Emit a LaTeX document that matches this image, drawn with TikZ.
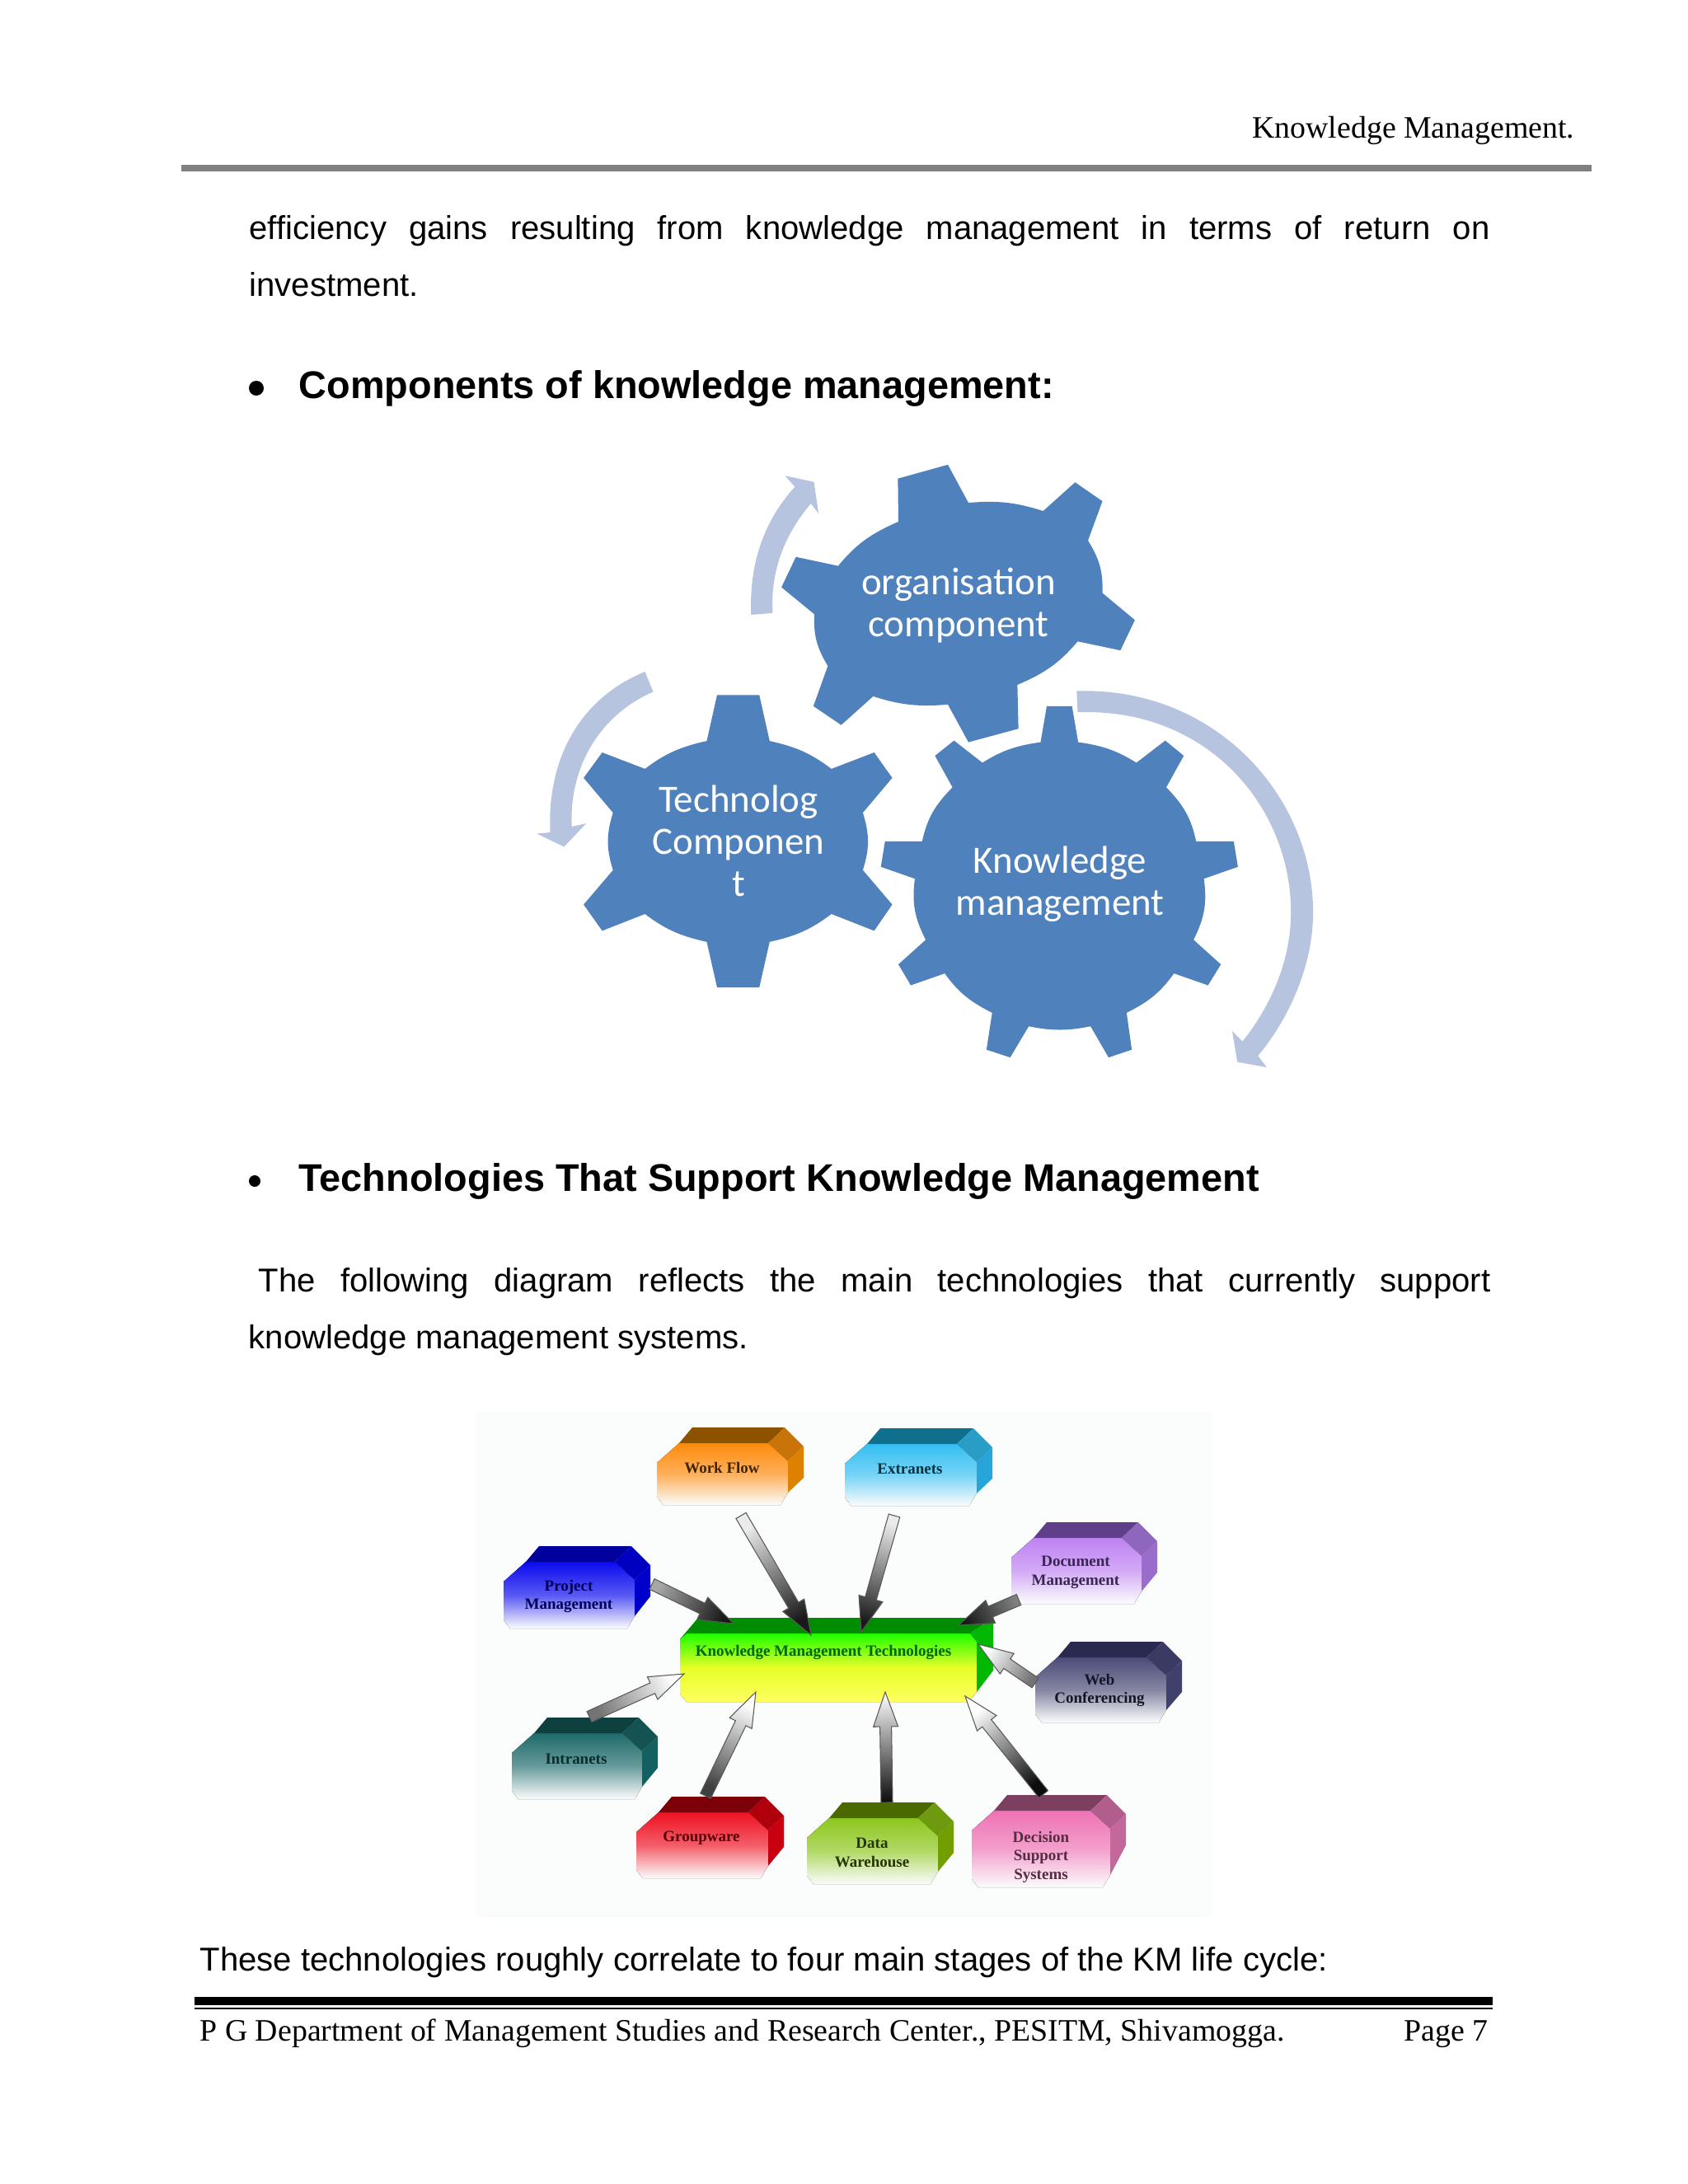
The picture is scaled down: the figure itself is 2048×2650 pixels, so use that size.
\documentclass[tikz,border=0pt]{standalone}
\usepackage{fontspec}
\setmainfont{Liberation Sans}
\newfontfamily\gearfont{Carlito}
\newfontfamily\serfont{Liberation Serif}
\usetikzlibrary{calc}

\definecolor{gearblue}{HTML}{4F81BD}
\definecolor{arcblue}{HTML}{B7C4DF}
\definecolor{rulegray}{HTML}{808080}
\definecolor{photobg}{HTML}{FBFCFC}
\definecolor{wffront}{HTML}{FF8A0C}\definecolor{wftop}{HTML}{8C5200}\definecolor{wfside}{HTML}{C87408}\definecolor{wfedge}{HTML}{DE8000}
\definecolor{exfront}{HTML}{35BFF2}\definecolor{extop}{HTML}{0F6F8C}\definecolor{exside}{HTML}{2A9DC6}\definecolor{exedge}{HTML}{27A5D8}
\definecolor{pjfront}{HTML}{0A0AEE}\definecolor{pjtop}{HTML}{00009C}\definecolor{pjside}{HTML}{0000C0}\definecolor{pjedge}{HTML}{0000CC}
\definecolor{dcfront}{HTML}{BE82F2}\definecolor{dctop}{HTML}{5F3F8A}\definecolor{dcside}{HTML}{8E66BE}\definecolor{dcedge}{HTML}{9A6CCC}
\definecolor{wbfront}{HTML}{4C4C78}\definecolor{wbtop}{HTML}{2A2A50}\definecolor{wbside}{HTML}{3A3A64}\definecolor{wbedge}{HTML}{40406C}
\definecolor{infront}{HTML}{1F6B6B}\definecolor{intop}{HTML}{0F4040}\definecolor{inside}{HTML}{155252}\definecolor{inedge}{HTML}{126060}
\definecolor{gwfront}{HTML}{EE1122}\definecolor{gwtop}{HTML}{7C0008}\definecolor{gwside}{HTML}{B0000C}\definecolor{gwedge}{HTML}{C80010}
\definecolor{dwfront}{HTML}{8DC71E}\definecolor{dwtop}{HTML}{4A6A00}\definecolor{dwside}{HTML}{6E9A10}\definecolor{dwedge}{HTML}{739E00}
\definecolor{dsfront}{HTML}{EE72B4}\definecolor{dstop}{HTML}{7C3F60}\definecolor{dsside}{HTML}{B25E8C}\definecolor{dsedge}{HTML}{C4689C}

\tikzset{
    bodytext/.style={anchor=base west, inner sep=0pt, font=\fontsize{11.4}{13}\selectfont},
    headtext/.style={anchor=base west, inner sep=0pt, font=\fontsize{13.32}{16}\selectfont\bfseries},
    pagetext/.style={anchor=base west, inner sep=0pt, font=\fontsize{10.76}{12}\selectfont\serfont},
    geartext/.style={align=center, inner sep=0pt, text=white, font=\fontsize{13.35}{14.5}\selectfont\gearfont},
    kmtext/.style={align=center, inner sep=0pt, font=\fontsize{5.4}{6.4}\selectfont\serfont\bfseries},
    gearzone/.style={shift={(620,530)}, xscale=0.625, yscale=0.4974},
    gearbend/.style={bend left=14},
    arrowline/.style={draw=black!65, line width=0.3pt}
}

\newcommand{\kmbox}[5]{%
    \pgfmathsetmacro\bw{#4}
    \pgfmathsetmacro\bh{#5}
    \begin{scope}[shift={(#2,#3)}]
        \fill[top color=#1front, bottom color=photobg, middle color=#1front!68!white] (0,43) -- (27,19) -- (\bw-43,19) -- (\bw-19,41) -- (\bw-19,\bh-15) -- (\bw-28,\bh) -- (8,\bh) -- (0,\bh-10) -- cycle;
        \fill[#1top] (43,0) -- (\bw-23,0) -- (\bw-43,19) -- (27,19) -- cycle;
        \fill[#1side] (\bw-23,0) -- (\bw,23) -- (\bw-19,41) -- (\bw-43,19) -- cycle;
        \fill[#1edge] (\bw,23) -- (\bw,61) -- (\bw-19,\bh-15) -- (\bw-19,41) -- cycle;
    \end{scope}
}

\newcommand{\blockarrow}[4]{%
    \pgfmathanglebetweenpoints{\pgfpointanchor{#1}{center}}{\pgfpointanchor{#2}{center}}
    \pgfmathsetmacro\shadeang{\pgfmathresult-90}
    \coordinate (hb) at ($(#2)!0.42cm!(#1)$);
    \draw[arrowline, bottom color=#3, top color=#4, shading angle=\shadeang]
        ($(#1)!0.07cm!90:(#2)$) -- ($(hb)!0.07cm!90:(#2)$) -- ($(hb)!0.15cm!90:(#2)$) -- (#2)
        -- ($(hb)!0.15cm!-90:(#2)$) -- ($(hb)!0.07cm!-90:(#2)$) -- ($(#1)!0.07cm!-90:(#2)$) -- cycle;
}

\begin{document}
\begin{tikzpicture}[x=0.01cm, y=-0.01cm]
    \useasboundingbox (0,0) rectangle (2048,2650);
    \fill[white] (0,0) rectangle (2048,2650);

    \node[pagetext, anchor=base east] (header) at (1911,167) {Knowledge Management.};
    \fill[rulegray] (220,200) rectangle (1931,208);

    \node[bodytext] (line1) at (302,290) {\makebox[15.04cm][s]{efficiency gains resulting from knowledge management in terms of return on}};
    \node[bodytext] (line2) at (302,359) {investment.};

    \fill (311,471) circle (9);
    \node[headtext] (head1) at (362,483) {Components of knowledge management:};

    \begin{scope}[gearzone]
        \fill[arcblue] (466,434) .. controls (462,300) and (495,200) .. (551,122) -- (532,95) -- (588,110) -- (597,187) -- (582,163) .. controls (530,240) and (503,330) .. (508,430) -- cycle;
        \fill[arcblue] (260,573) .. controls (130,640) and (70,790) .. (76,965) -- (50,968) -- (103,1000) -- (146,943) -- (118,951) .. controls (112,810) and (170,680) .. (276,622) -- cycle;
        \fill[arcblue] (1098,620) .. controls (1370,610) and (1557,880) .. (1557,1160) .. controls (1557,1290) and (1510,1420) .. (1450,1510) -- (1467,1538) -- (1410,1525) -- (1400,1450) -- (1420,1475) .. controls (1480,1380) and (1514,1270) .. (1514,1160) .. controls (1514,900) and (1350,660) .. (1100,672) -- cycle;

        \fill[gearblue] (752,207) -- (751,102) -- (848,68) -- (888,161) to[gearbend] (1033,181) -- (1095,111) -- (1148,157) -- (1120,253) to[gearbend] (1148,381) -- (1211,447) -- (1183,521) -- (1100,499) to[gearbend] (983,605) -- (985,712) -- (888,745) -- (848,653) to[gearbend] (703,633) -- (641,703) -- (587,657) -- (615,559) to[gearbend] (589,433) -- (525,367) -- (553,293) -- (635,315) to[gearbend] cycle;
        \fill[gearblue] (380,742) -- (400,630) -- (482,630) -- (502,742) to[gearbend] (622,810) -- (705,770) -- (740,832) -- (683,917) to[gearbend] (683,1057) -- (740,1141) -- (705,1205) -- (622,1164) to[gearbend] (502,1232) -- (482,1343) -- (400,1343) -- (380,1232) to[gearbend] (260,1164) -- (177,1205) -- (141,1141) -- (198,1057) to[gearbend] (198,917) -- (141,832) -- (177,770) -- (260,810) to[gearbend] cycle;
        \fill[gearblue] (1028,745) -- (1040,657) -- (1089,657) -- (1101,745) to[gearbend] (1214,795) -- (1270,741) -- (1306,778) -- (1272,855) to[gearbend] (1330,987) -- (1403,987) -- (1411,1049) -- (1345,1078) to[gearbend] (1325,1227) -- (1378,1287) -- (1353,1338) -- (1287,1309) to[gearbend] (1195,1405) -- (1205,1495) -- (1160,1514) -- (1125,1438) to[gearbend] (1005,1438) -- (969,1514) -- (923,1495) -- (934,1405) to[gearbend] (842,1309) -- (776,1338) -- (752,1287) -- (805,1227) to[gearbend] (784,1078) -- (718,1049) -- (726,987) -- (798,987) to[gearbend] (857,855) -- (823,778) -- (860,741) -- (915,795) to[gearbend] cycle;
    \end{scope}
    \node[geartext] (orggear) at (1163,735) {organisation\\component};
    \node[geartext] (techgear) at (896,1020) {Technolog\\Componen\\t};
    \node[geartext] (kmgear) at (1286,1073) {Knowledge\\management};

    \fill (309,1433) circle (7);
    \node[headtext] (head2) at (362,1445) {Technologies That Support Knowledge Management};

    \node[bodytext] (line3) at (313,1567) {\makebox[14.94cm][s]{The following diagram reflects the main technologies that currently support}};
    \node[bodytext] (line4) at (301,1636) {knowledge management systems.};

    \fill[photobg] (577,1713) rectangle (1471,2327);

    \kmbox{wf}{797}{1732}{178}{94}
    \kmbox{ex}{1025}{1733}{179}{94}
    \kmbox{pj}{611}{1876}{178}{100}
    \kmbox{dc}{1227}{1847}{177}{99}
    \kmbox{wb}{1256}{1992}{178}{98}
    \kmbox{in}{621}{2084}{177}{99}
    \kmbox{gw}{772}{2180}{179}{99}
    \kmbox{dw}{979}{2187}{178}{99}
    \kmbox{ds}{1179}{2178}{187}{112}

    \fill[top color=green!85!lime, bottom color=yellow!62!white, middle color=lime!45!yellow!85!white] (825,1989) -- (833,1982) -- (1177,1982) -- (1185,1992) -- (1185,2053) -- (1175,2065) -- (833,2065) -- (825,2055) -- cycle;
    \fill[green!55!black] (847,1963) -- (1205,1963) -- (1177,1982) -- (833,1982) -- (825,1989) -- cycle;
    \fill[green!72!black] (1205,1963) -- (1205,2027) -- (1185,2053) -- (1185,1992) -- (1177,1982) -- cycle;

    \node[kmtext, text=wftop!45!black] (workflow) at (876,1781) {Work Flow};
    \node[kmtext, text=extop!45!black] (extranets) at (1104,1782) {Extranets};
    \node[kmtext, text=pjtop!55!black] (project) at (690,1937) {Project\\Management};
    \node[kmtext, text=dctop!60!black] (document) at (1305,1908) {Document\\Management};
    \node[kmtext, text=wbtop!50!black] (webconf) at (1334,2051) {Web\\Conferencing};
    \node[kmtext, text=intop!70!black] (intranets) at (699,2134) {Intranets};
    \node[kmtext, text=gwtop!70!black] (groupware) at (851,2230) {Groupware};
    \node[kmtext, text=dwtop!50!black] (datawh) at (1058,2248) {Data\\Warehouse};
    \node[kmtext, text=dstop!70!black] (decision) at (1263,2253) {Decision\\Support\\Systems};
    \node[kmtext, text=green!40!black] (kmtech) at (999,2005) {Knowledge Management Technologies};

    \coordinate (workflowout) at (899,1839);
    \coordinate (kmtop1) at (984,1984);
    \coordinate (extranetsout) at (1085,1839);
    \coordinate (kmtop2) at (1045,1980);
    \coordinate (projectout) at (791,1922);
    \coordinate (kmtop0) at (890,1970);
    \coordinate (documentout) at (1236,1941);
    \coordinate (kmtop3) at (1163,1972);
    \coordinate (webconfout) at (1256,2042);
    \coordinate (kmright) at (1187,1995);
    \coordinate (intranetsout) at (715,2083);
    \coordinate (kmleft) at (830,2031);
    \coordinate (groupwareout) at (856,2179);
    \coordinate (kmbot1) at (917,2053);
    \coordinate (datawhout) at (1076,2187);
    \coordinate (kmbot2) at (1074,2053);
    \coordinate (decisionout) at (1266,2177);
    \coordinate (kmbot3) at (1171,2058);

    \blockarrow{workflowout}{kmtop1}{black!8}{black!90}
    \blockarrow{extranetsout}{kmtop2}{black!8}{black!90}
    \blockarrow{projectout}{kmtop0}{black!35}{black!90}
    \blockarrow{documentout}{kmtop3}{black!50}{black!90}
    \blockarrow{webconfout}{kmright}{black!55}{white}
    \blockarrow{intranetsout}{kmleft}{black!55}{white}
    \blockarrow{groupwareout}{kmbot1}{black!75}{white}
    \blockarrow{datawhout}{kmbot2}{black!95}{white}
    \blockarrow{decisionout}{kmbot3}{black!95}{white}

    \node[bodytext] (line5) at (242,2391) {These technologies roughly correlate to four main stages of the KM life cycle:};
    \fill (236,2423) rectangle (1811,2433);
    \fill (236,2436) rectangle (1811,2438);
    \node[pagetext] (footer) at (242,2476) {P G Department of Management Studies and Research Center., PESITM, Shivamogga.};
    \node[pagetext, anchor=base east] (pagenum) at (1806,2476) {Page 7};
\end{tikzpicture}
\end{document}
